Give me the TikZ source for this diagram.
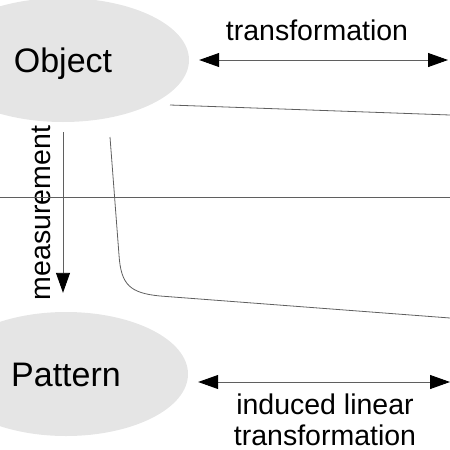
\documentclass[tikz,border=0pt]{standalone}
\usepackage{fontspec}
\setmainfont{Liberation Sans}
\usetikzlibrary{shapes.geometric,arrows.meta}
\definecolor{blobgray}{RGB}{229,229,229}
\definecolor{linegray}{RGB}{95,95,95}

\begin{document}
\begin{tikzpicture}[x=1pt,y=-1pt,
  blob/.style={ellipse,fill=blobgray,minimum width=252pt,minimum height=124pt,inner sep=0pt,text height=25pt,text depth=0pt,font=\fontsize{34}{40}\selectfont},
  lbl/.style={font=\fontsize{28.5}{31}\selectfont,inner sep=0pt},
  arr/.style={draw=linegray,line width=0.9pt,-{Triangle[length=20pt,width=14pt,color=black]}},
  arrtwo/.style={draw=linegray,line width=0.9pt,{Triangle[length=20pt,width=14pt,color=black]}-{Triangle[length=20pt,width=14pt,color=black]}},
  guide/.style={draw=linegray,line width=0.8pt}]
\useasboundingbox (0,0) rectangle (450,450);
\node[blob] (obj) at (63,60) {Object};
\node[blob,minimum width=244pt] (pat) at (66,374) {Pattern};
\node[lbl,anchor=base] (trf) at (317,40) {transformation};
\node[lbl,anchor=base,rotate=90] (meas) at (50,213) {measurement};
\node[lbl,anchor=base,align=center] (ilt) at (325,445) {induced linear\\transformation};
\coordinate (objR) at (448,60);
\coordinate (patR) at (450,382);
\draw[arrtwo,shorten <=10pt] (obj.east) -- (objR);
\draw[arrtwo,shorten <=10pt] (pat.east |- patR) -- (patR);
\draw[arr,shorten <=10pt,shorten >=19pt] (obj.south) -- (obj.south |- pat.north);
\draw[guide] (0,197) -- (450,197);
\draw[guide] (170,105) -- (450,115);
\draw[guide] (110,137) -- (119,255) .. controls (121,285) and (130,293) .. (160,296) -- (450,318);
\end{tikzpicture}
\end{document}
